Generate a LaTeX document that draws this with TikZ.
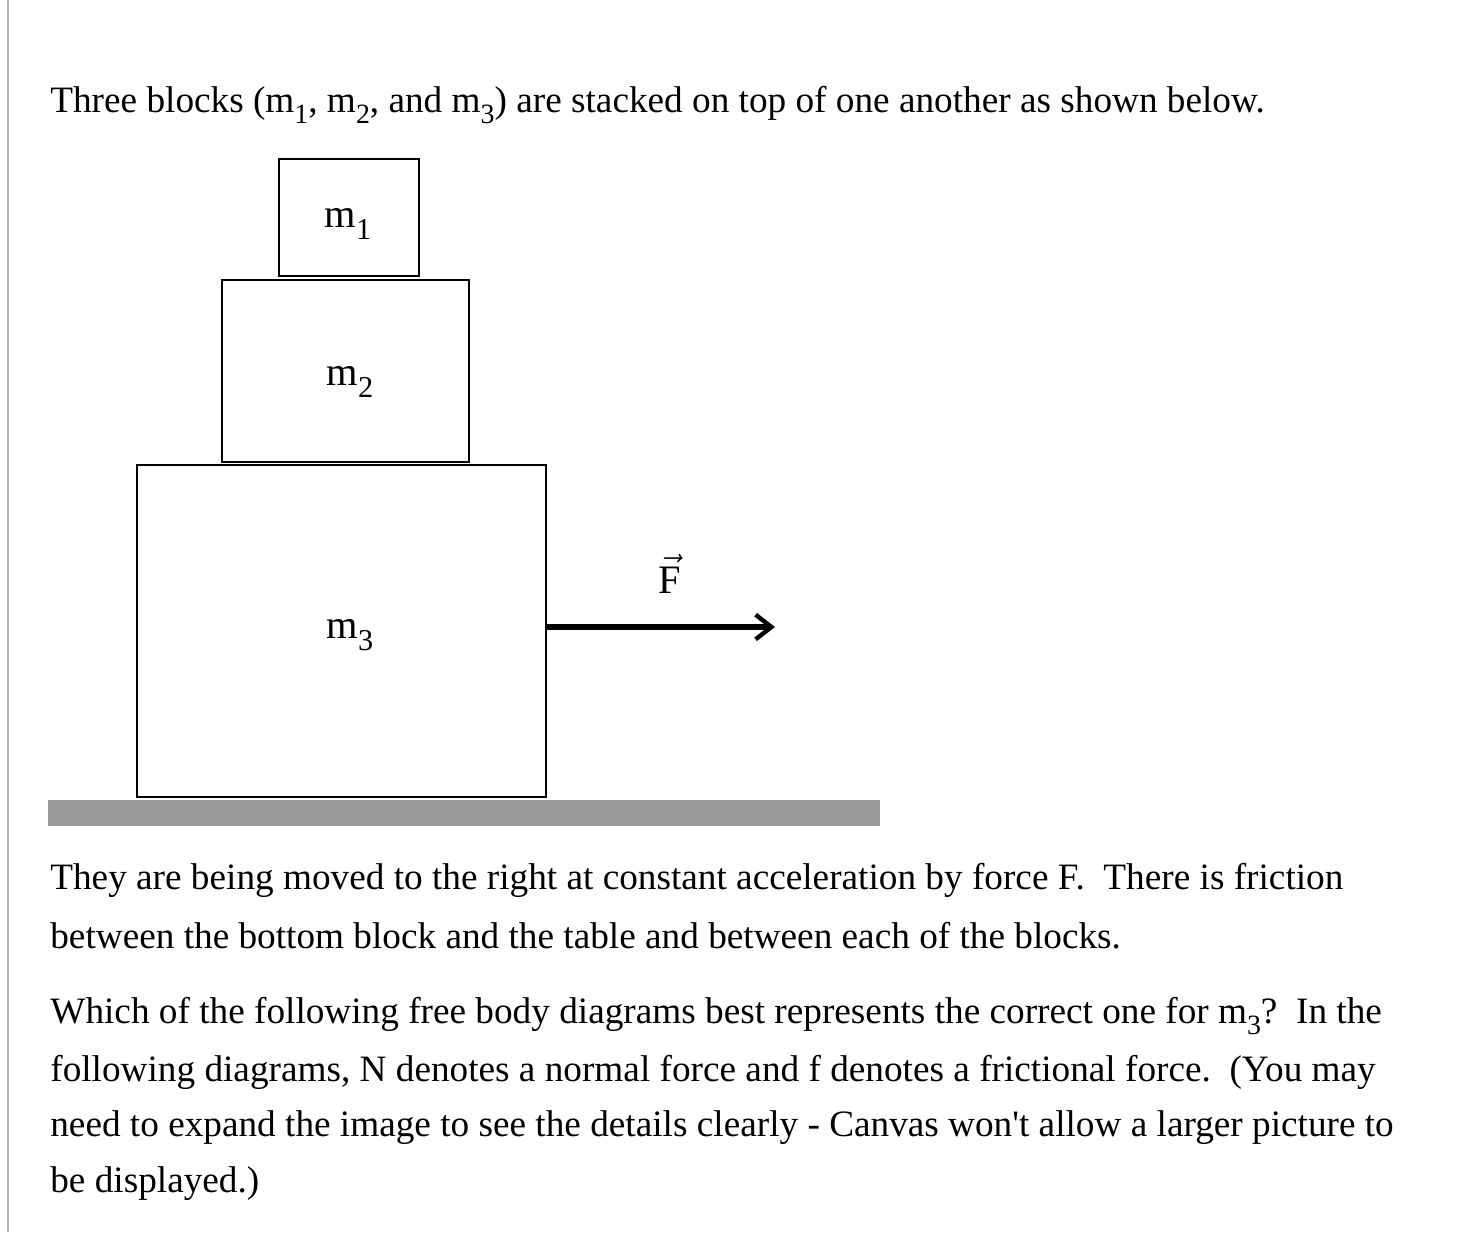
\documentclass[tikz,border=0pt]{standalone}
\usepackage{fontspec}
\setmainfont{Liberation Serif}
\usetikzlibrary{arrows.meta}
\newcommand{\mysub}[1]{\raisebox{-0.28em}{\scalebox{0.75}{#1}}}
\begin{document}
\begin{tikzpicture}[x=0.02cm,y=-0.02cm,
  blk/.style={draw,line width=1.6pt},
  txt/.style={anchor=west,inner sep=0,font=\fontsize{21.2}{28}\selectfont},
  lab/.style={font=\fontsize{23}{26}\selectfont}]
\useasboundingbox (0,0) rectangle (1458,1232);
\draw[gray!60,line width=1pt] (8,0) -- (8,1232);
\node[txt] (t1) at (50,105) {Three blocks (m\mysub{1}, m\mysub{2}, and m\mysub{3}) are stacked on top of one another as shown below.};
\draw[blk] (279,159) rectangle (419,276);
\draw[blk] (222,280) rectangle (469,462);
\draw[blk] (137,465) rectangle (546,797);
\fill[gray!80] (48,800) rectangle (880,826);
\node[lab] (m1) at (348,224) {m\mysub{1}};
\node[lab] (m2) at (350,382) {m\mysub{2}};
\node[lab] (m3) at (350,635) {m\mysub{3}};
\coordinate (fs) at (546,627);
\coordinate (fe) at (775,627);
\draw[line width=3.5pt,-{Straight Barb[length=9pt,width=14pt,line width=2.5pt]}] (fs) -- (fe);
\node[lab] (F) at (670,574) {$\vec{\mathrm{F}}$};
\node[txt] (t2) at (50,880) {They are being moved to the right at constant acceleration by force F.\ \ There is friction};
\node[txt] (t3) at (50,936) {between the bottom block and the table and between each of the blocks.};
\node[txt] (t4) at (50,1016) {Which of the following free body diagrams best represents the correct one for m\mysub{3}?\ \ In the};
\node[txt] (t5) at (50,1072) {following diagrams, N denotes a normal force and f denotes a frictional force.\ \ (You may};
\node[txt] (t6) at (50,1128) {need to expand the image to see the details clearly - Canvas won\textquotesingle t allow a larger picture to};
\node[txt] (t7) at (50,1184) {be displayed.)};
\end{tikzpicture}
\end{document}
